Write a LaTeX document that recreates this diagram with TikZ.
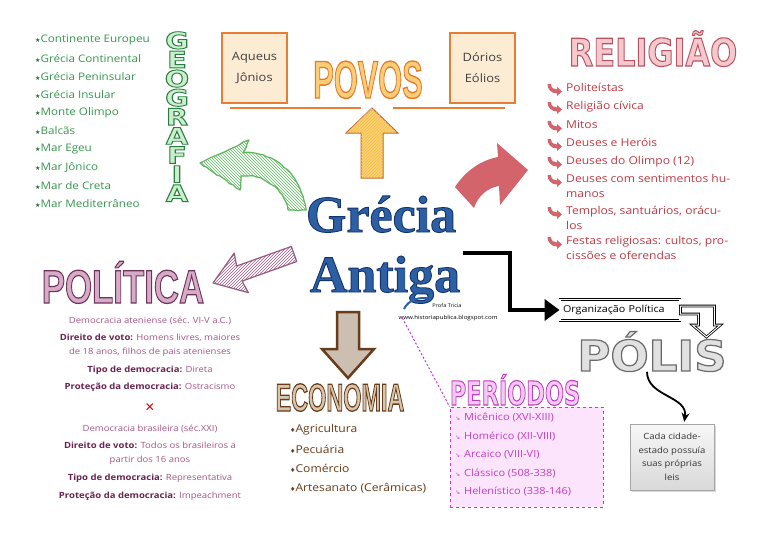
\documentclass[tikz,border=0pt]{standalone}
\usepackage{fontspec}
\setmainfont{Open Sans}[FakeStretch=1.12]
\newfontfamily\symfont{DejaVu Sans}
\newfontfamily\widefont{DejaVu Sans}
\newfontfamily\blockfont{Liberation Sans}
\newfontfamily\greekfont{Liberation Serif}
\usetikzlibrary{arrows.meta,patterns,shadows,decorations.pathmorphing}

\definecolor{geogreen}{RGB}{55,150,80}
\definecolor{geofill}{RGB}{205,238,205}
\definecolor{arrowgreen}{RGB}{95,180,95}
\definecolor{povorange}{RGB}{232,125,52}
\definecolor{povpeach}{RGB}{253,236,212}
\definecolor{povfill}{RGB}{250,205,120}
\definecolor{arrowyellow}{RGB}{250,215,85}
\definecolor{grecblue}{RGB}{45,95,165}
\definecolor{relred}{RGB}{192,58,68}
\definecolor{relfill}{RGB}{244,200,205}
\definecolor{arrowred}{RGB}{212,100,108}
\definecolor{polfill}{RGB}{215,170,200}
\definecolor{poltext}{RGB}{165,85,135}
\definecolor{polbold}{RGB}{105,35,80}
\definecolor{polarrow}{RGB}{150,90,130}
\definecolor{ecofill}{RGB}{215,198,175}
\definecolor{ecobrown}{RGB}{105,60,25}
\definecolor{arrowtan}{RGB}{205,190,178}
\definecolor{perfill}{RGB}{252,228,252}
\definecolor{permag}{RGB}{195,60,195}
\definecolor{pertitle}{RGB}{245,200,245}
\definecolor{polisfill}{RGB}{225,225,225}

% outlined letters: fill from the text colour, stroke given as "r g b"
\newcommand\outl[3][1]{\special{pdf:literal direct #1 w #2 RG 2 Tr}#3\special{pdf:literal direct 0 Tr}}
\newcommand\gl[1]{\scalebox{1.25}[1]{\outl[0.9]{0.15 0.5 0.25}{#1}}}
\newcommand\pb[1]{{\bfseries\color{polbold}#1}}

\begin{document}
\begin{tikzpicture}[x=1pt,y=-1pt,
  title/.style={anchor=base,inner sep=0},
  geoitem/.style={anchor=west,inner sep=0,text=geogreen,font=\fontsize{10.4}{11}\selectfont},
  geoletters/.style={anchor=north,inner sep=0,align=center,text=geofill,font=\widefont\bfseries\fontsize{23}{19.1}\selectfont},
  povobox/.style={draw=povorange,line width=1.6pt,fill=povpeach,minimum width=65,minimum height=70,
    align=center,text=black!75,font=\fontsize{11.5}{21}\selectfont},
  relbul/.pic={\fill[arrowred] (-6,-4) .. controls (-6,0) and (-3,1.5) .. (0,1.5) -- (0,-1) -- (5,3.5)
    -- (0,8) -- (0,5.5) .. controls (-6,5.5) and (-9.5,1) .. (-9.5,-4) -- cycle;},
  relitem/.style={anchor=north west,inner sep=0,align=left,text=relred,font=\fontsize{10.8}{15.5}\selectfont},
  politem/.style={inner sep=0,align=center,text=poltext,font=\fontsize{8.5}{14}\selectfont},
  ecoitem/.style={anchor=west,inner sep=0,text=ecobrown,font=\fontsize{10.8}{11}\selectfont},
  peritem/.style={anchor=west,inner sep=0,text=permag,font=\fontsize{9.8}{11}\selectfont},
  perbox/.style={draw=permag,fill=perfill,dashed,line width=0.9pt,minimum width=153,minimum height=100},
  orgbox/.style={draw=black,line width=0.9pt,double=white,double distance=1.1pt,fill=white,
    text width=114,align=left,inner sep=3pt,minimum height=21,font=\fontsize{9.6}{10}\selectfont},
  cadabox/.style={draw=gray!70,top color=gray!6,bottom color=gray!30,drop shadow={shadow xshift=2pt,shadow yshift=-2pt,opacity=0.3},
    minimum width=84,minimum height=66,align=center,text=black!80,font=\fontsize{8.5}{13.5}\selectfont},
  greenarrow/.style={draw=arrowgreen,line width=1.2pt,line join=round,pattern=north west lines,pattern color=arrowgreen,
    decorate,decoration={random steps,segment length=4pt,amplitude=0.7pt}},
  yellowarrow/.style={draw=povorange!80!black,line width=1pt,fill=arrowyellow,
    postaction={pattern=north east lines,pattern color=povorange!60}},
  hatcharrow/.style={draw=polarrow,line width=1.2pt,line join=round,pattern=north east lines,pattern color=polarrow},
  brownarrow/.style={draw=ecobrown,line width=2.5pt,line join=miter,fill=arrowtan},
  bentarrow/.style={line width=4pt,-{Triangle[length=15pt,width=21pt]}},
  outarrow/.style={draw=black,line width=0.8pt,double=white,double distance=1pt,line join=miter},
  curlyarrow/.style={line width=1.8pt,-{Stealth[length=9pt,width=8pt]},shorten >=2pt},
  perline/.style={draw=permag,line width=1pt,dash pattern=on 2pt off 2pt}
]
\useasboundingbox (0,0) rectangle (768,543);
\fill[white] (0,0) rectangle (768,543);

% geografia
\foreach \txt [count=\i] in {Continente Europeu,Grécia Continental,Grécia Peninsular,Grécia Insular,
  Monte Olimpo,Balcãs,Mar Egeu,Mar Jônico,Mar de Creta,Mar Mediterrâneo}
  \node[geoitem] (geo\i) at (35,21.8+18.2*\i) {{\symfont\fontsize{6}{6}\selectfont\color{geogreen!70!black}★}\txt};
\node[geoletters] (geografia) at (177,31.5) {\gl{G}\\\gl{E}\\\gl{O}\\\gl{G}\\\gl{R}\\\gl{A}\\\gl{F}\\\gl{I}\\\gl{A}};
\draw[greenarrow] (200,163) -- (249,140) -- (243,153) .. controls (278,150) and (302,180) .. (306,210)
  -- (288,210) .. controls (283,190) and (266,174) .. (241,176) -- (240,190) -- cycle;

% povos
\node[povobox] (aqueus) at (254.5,68) {Aqueus\\Jônios};
\node[povobox] (dorios) at (482.5,68) {Dórios\\Eólios};
\node[title,text=povfill] (povos) at (368,98)
  {\blockfont\bfseries\fontsize{53}{53}\selectfont\scalebox{0.58}[1]{\outl[1.4]{0.9 0.48 0.15}{POVOS}}};
\draw[povorange,line width=1.5pt] (230,108) -- (361,108) (393,108) -- (505,108);
\draw[yellowarrow] (361,178) -- (361,133) -- (346,133) -- (372,108) -- (398,133) -- (383,133) -- (383,178) -- cycle;

% centro
\node[title,text=grecblue] (grecia) at (381,232)
  {\greekfont\bfseries\fontsize{52}{52}\selectfont\outl[0.9]{0.08 0.2 0.42}{Grécia}};
\node[title,text=grecblue] (antiga) at (385,292)
  {\greekfont\bfseries\fontsize{52}{52}\selectfont\outl[0.9]{0.08 0.2 0.42}{Antiga}};
\draw[grecblue,line width=2pt] (404,309) .. controls (408,300) and (420,296) .. (430,299);
\node[inner sep=0,font=\fontsize{5}{5}\selectfont] (profa) at (447,306) {Profa Tricia};
\node[inner sep=0,font=\fontsize{5.5}{6}\selectfont] (url) at (448,318) {www.historiapublica.blogspot.com};

% religiao
\node[title,text=relfill] (religiao) at (653,66)
  {\widefont\bfseries\fontsize{38}{38}\selectfont\scalebox{0.84}[1]{\outl[1.1]{0.72 0.33 0.38}{RELIGIÃO}}};
\fill[arrowred] (455,187) .. controls (466,170) and (482,160) .. (498,157) -- (497,143) -- (528,170)
  -- (500,205) -- (499,186) .. controls (487,188) and (478,196) .. (474,208) -- cycle;
\foreach \y/\txt [count=\i] in {90/Politeístas,108/Religião cívica,127/Mitos,145/Deuses e Heróis,
  163/Deuses do Olimpo (12),181/{Deuses com sentimentos hu-\\manos},213/{Templos, santuários, orácu-\\los},
  243/{Festas religiosas: cultos, pro-\\cissões e oferendas}}
{
  \pic at (557,\y-2) {relbul};
  \node[relitem] (rel\i) at (566,\y-7) {\txt};
}

% politica
\node[title,text=polfill] (politica) at (123,303)
  {\blockfont\bfseries\fontsize{47}{47}\selectfont\scalebox{0.74}[1]{\outl[1.2]{0.43 0.2 0.35}{POLÍTICA}}};
\begin{scope}[shift={(294,254)},rotate=199.7]
  \draw[hatcharrow] (0,-8) -- (58,-8) -- (56,-21) -- (86,0) -- (56,21) -- (58,8) -- (0,8) -- cycle;
\end{scope}
\node[politem] (pol1) at (150,321) {Democracia ateniense (séc. VI-V a.C.)};
\node[politem] (pol2) at (150,345) {\pb{Direito de voto:} Homens livres, maiores\\de 18 anos, filhos de pais atenienses};
\node[politem] (pol3) at (150,370) {\pb{Tipo de democracia:} Direta};
\node[politem] (pol4) at (150,387) {\pb{Proteção da democracia:} Ostracismo};
\node[politem,text=red!85!black,font=\symfont\fontsize{12}{12}\selectfont] (versus) at (150,408) {✕};
\node[politem] (pol5) at (150,429) {Democracia brasileira (séc.XXI)};
\node[politem] (pol6) at (150,453) {\pb{Direito de voto:} Todos os brasileiros a\\partir dos 16 anos};
\node[politem] (pol7) at (150,478) {\pb{Tipo de democracia:} Representativa};
\node[politem] (pol8) at (150,496) {\pb{Proteção da democracia:} Impeachment};

% economia
\draw[brownarrow] (337,312) -- (359,312) -- (359,349) -- (374,349) -- (348,378) -- (322,349) -- (337,349) -- cycle;
\node[title,text=ecofill] (economia) at (340,411)
  {\blockfont\bfseries\fontsize{39}{39}\selectfont\scalebox{0.6}[1]{\outl[1.3]{0.41 0.24 0.1}{ECONOMIA}}};
\foreach \y/\txt [count=\i] in {430/Agricultura,449/Pecuária,468/Comércio,488/Artesanato (Cerâmicas)}
  \node[ecoitem] (eco\i) at (290,\y) {{\symfont\fontsize{6}{6}\selectfont♦}\txt};

% periodos
\node[perbox] (perbox) at (526.5,457) {};
\node[title,text=pertitle] (periodos) at (515,405)
  {\widefont\bfseries\fontsize{33}{33}\selectfont\scalebox{0.68}[1]{\outl[1.1]{0.75 0.24 0.75}{PERÍODOS}}};
\foreach \y/\txt [count=\i] in {418/Micênico (XVI-XIII),436.5/Homérico (XII-VIII),455/Arcaico (VIII-VI),
  473.5/Clássico (508-338),492/Helenístico (338-146)}
  \node[peritem] (per\i) at (455,\y) {{\symfont\fontsize{6}{6}\selectfont↘}\hspace{4pt}\txt};
\draw[perline] ([xshift=4pt]url.west) -- (perbox.north west);

% polis
\node[orgbox] (org) at (620,310) {Organização Política};
\coordinate (orgsrc) at (463,253);
\draw[bentarrow] (orgsrc) -- (510,253) |- (org.west);
\draw[outarrow,fill=white] ([yshift=4pt]org.east) -- ++(34,0) -- ++(0,19) -- ++(6,0) -- ++(-14,12)
  -- ++(-14,-12) -- ++(6,0) -- ++(0,-11) -- ++(-18,0) -- cycle;
\node[title,text=polisfill] (polis) at (652,371)
  {\widefont\bfseries\fontsize{42.5}{42.5}\selectfont\scalebox{1.06}[1]{\outl[1.2]{0.42 0.42 0.42}{PÓLIS}}};
\node[cadabox] (cada) at (672,457) {Cada cidade-\\estado possuía\\suas próprias\\leis};
\draw[curlyarrow] ([xshift=-5pt]polis.south) .. controls +(0,25) and +(4,-28) .. ([xshift=12pt]cada.north);
\end{tikzpicture}
\end{document}
